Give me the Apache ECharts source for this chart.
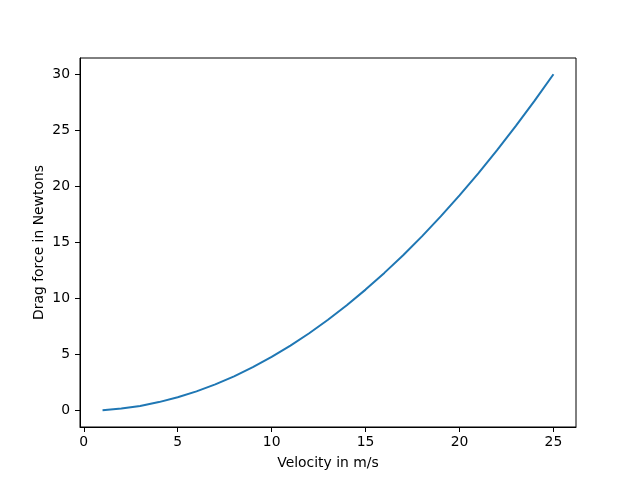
<!DOCTYPE html>
<html>
<head>
<meta charset="utf-8">
<script src="https://cdn.jsdelivr.net/npm/echarts@6/dist/echarts.min.js"></script>
<style>html,body{margin:0;padding:0;background:#fff;}#c{width:640px;height:480px;}</style>
</head>
<body>
<div id="c"></div>
<script>
const velocity = [1,2,3,4,5,6,7,8,9,10,11,12,13,14,15,16,17,18,19,20,21,22,23,24,25];
const dragForce = [0.05,0.19,0.43,0.77,1.2,1.73,2.35,3.07,3.89,4.8,5.81,6.91,8.11,9.41,10.8,12.29,13.87,15.55,17.33,19.2,21.17,23.23,25.39,27.65,30.0];
const xTicks = [0,5,10,15,20,25];
const yTicks = [0,5,10,15,20,25,30];
const xTitle = 'Velocity in m/s';
const yTitle = 'Drag force in Newtons';

const font = 'DejaVu Sans';
const chart = echarts.init(document.getElementById('c'), null, {renderer:'canvas'});
chart.setOption({
  animation: false,
  backgroundColor: '#ffffff',
  grid: {left: 80, right: 64, top: 58, bottom: 53, show: true, borderColor: '#000', borderWidth: 1, backgroundColor: 'transparent'},
  xAxis: {
    type: 'value', min: -0.2, max: 26.2,
    name: xTitle, nameLocation: 'middle', nameGap: 29, nameMoveOverlap: false,
    nameTextStyle: {fontFamily: font, fontSize: 13.9, color: '#000'},
    axisLine: {show: true, onZero: false, lineStyle: {color: '#000', width: 1}},
    splitLine: {show: false},
    axisTick: {show: true, length: 5, lineStyle: {color: '#000', width: 1}, customValues: xTicks},
    axisLabel: {customValues: xTicks, margin: 8, fontFamily: font, fontSize: 13.9, color: '#000'}
  },
  yAxis: {
    type: 'value', min: -1.45, max: 31.45,
    name: yTitle, nameLocation: 'middle', nameGap: 34, nameRotate: 90, nameMoveOverlap: false,
    nameTextStyle: {fontFamily: font, fontSize: 13.9, color: '#000'},
    axisLine: {show: true, onZero: false, lineStyle: {color: '#000', width: 1}},
    splitLine: {show: false},
    axisTick: {show: true, length: 5, lineStyle: {color: '#000', width: 1}, customValues: yTicks},
    axisLabel: {customValues: yTicks, margin: 10, padding: [3, 0, 0, 0], fontFamily: font, fontSize: 13.9, color: '#000'}
  },
  series: [{
    type: 'line',
    data: velocity.map((v, i) => [v, dragForce[i]]),
    showSymbol: false,
    symbol: 'none',
    lineStyle: {color: '#1f77b4', width: 2},
    itemStyle: {color: '#1f77b4'}
  }]
});
</script>
</body>
</html>
